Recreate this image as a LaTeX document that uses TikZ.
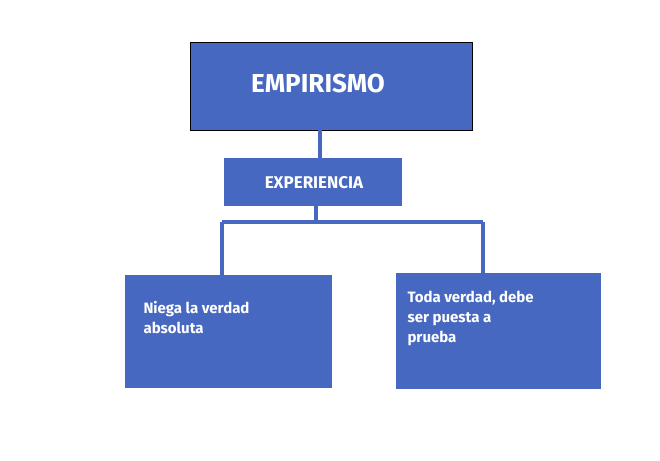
\documentclass[tikz,border=0pt]{standalone}
\usepackage{fontspec}
\setmainfont{Fira Sans}
\definecolor{bl}{HTML}{4668C0}
\tikzset{box/.style={fill=bl,inner sep=0pt},
 conn/.style={draw=bl,line width=4pt},
 txt/.style={text=white,font=\bfseries,align=left,anchor=north west}}
\begin{document}
\begin{tikzpicture}[x=1pt,y=-1pt]
\useasboundingbox (0,0) rectangle (660,460);
\fill[bl,draw=black,line width=0.8pt] (190,42) rectangle (472,130);
\node[text=white,font=\bfseries\fontsize{26}{30}\selectfont] (emp) at (318,83) {EMPIRISMO};
\fill[bl] (224,158) rectangle (402,206);
\node[text=white,font=\bfseries\fontsize{17}{20}\selectfont] (exp) at (314,183) {EXPERIENCIA};
\fill[bl] (125,275) rectangle (332,388);
\fill[bl] (396,273) rectangle (601,389);
\coordinate (a) at (320,130); \coordinate (b) at (320,158);
\coordinate (c) at (316,206); \coordinate (d) at (316,222);
\coordinate (l) at (222,222); \coordinate (r) at (483,222);
\coordinate (l2) at (222,275); \coordinate (r2) at (483,273);
\draw[conn] (a)--(b);
\draw[conn] (c)--(d);
\draw[conn] (l)--(r);
\draw[conn] (l)--(l2);
\draw[conn] (r)--(r2);
\node[txt,font=\bfseries\fontsize{15}{20}\selectfont] (t1) at (140,298) {Niega la verdad\\absoluta};
\node[txt,font=\bfseries\fontsize{15}{20}\selectfont] (t2) at (404,288) {Toda verdad, debe\\ser puesta a\\prueba};
\end{tikzpicture}
\end{document}
